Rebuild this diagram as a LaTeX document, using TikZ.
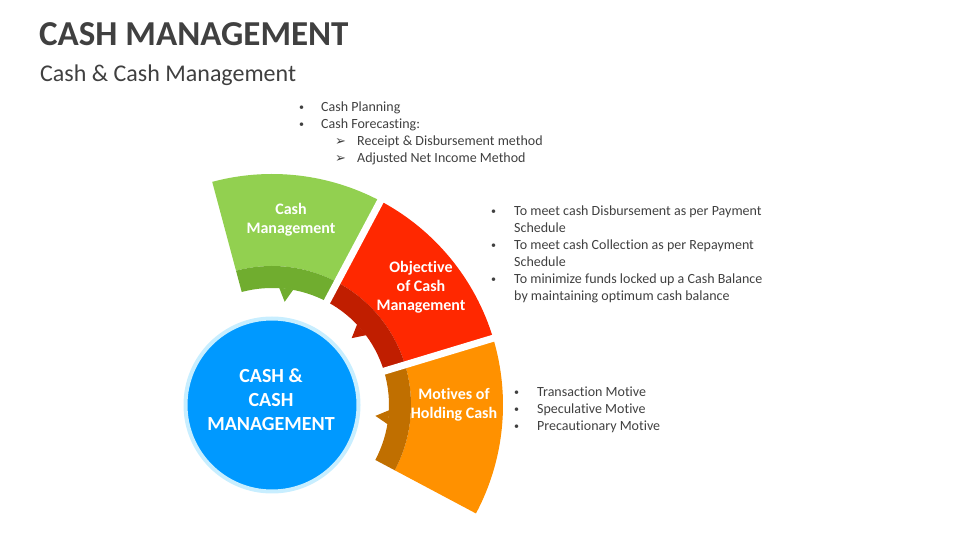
\documentclass[tikz,border=0pt]{standalone}
\usepackage{fontspec}
\setmainfont[Ligatures=NoCommon]{Carlito}
\newfontfamily\symfont{DejaVu Sans}
\usetikzlibrary{calc, positioning}

\definecolor{lgreen}{HTML}{92D050}
\definecolor{dgreen}{HTML}{70AD2F}
\definecolor{lred}{HTML}{FF2800}
\definecolor{dred}{HTML}{C01E00}
\definecolor{lorange}{HTML}{FF9100}
\definecolor{dorange}{HTML}{C06F00}
\definecolor{hubblue}{HTML}{0099FF}
\definecolor{hubglow}{HTML}{C8EEFF}
\definecolor{txtgray}{HTML}{404040}

\begin{document}
\begin{tikzpicture}[x=1pt, y=1pt,
    item/.style={anchor=base west, inner sep=0pt, text=txtgray, font=\fontsize{14}{17}\selectfont},
    dot/.style={anchor=base west, inner sep=0pt, text=txtgray, font=\fontsize{10}{17}\selectfont, yshift=1pt},
    label/.style={text=white, align=center, font=\bfseries\fontsize{16}{19}\selectfont}]
    \useasboundingbox (0,0) rectangle (960,540);

    % title
    \node[anchor=base west, inner sep=0pt, text=txtgray, font=\bfseries\fontsize{35}{40}\selectfont] (title) at (39,494) {CASH MANAGEMENT};
    \node[anchor=base west, inner sep=0pt, text=txtgray, font=\fontsize{24}{28}\selectfont] (subtitle) at (40,458) {Cash \& Cash Management};

    % sectors round the hub
    \begin{scope}[shift={(272,135)}]
        \foreach \a/\b/\m/\lt/\dk in {62/105/83/lgreen/dgreen, 16.8/62/40/lred/dred, -28/16.8/-6/lorange/dorange} {
            \fill[\lt] (\a:139pt) -- (\a:231pt) arc[start angle=\a, end angle=\b, radius=231pt] -- (\b:139pt) arc[start angle=\b, end angle=\a, radius=139pt] -- cycle;
            \fill[\dk] (\a:117pt) -- (\a:139pt) arc[start angle=\a, end angle=\b, radius=139pt] -- (\b:117pt) arc[start angle=\b, end angle=\a, radius=117pt] -- cycle;
            \fill[\dk] ({\m-3.5}:117.5pt) -- (\m:104pt) -- ({\m+3.5}:117.5pt) -- cycle;
        }
        \foreach \g in {62, 16.8}
            \draw[white, line width=7pt] (\g:100pt) -- (\g:240pt);
    \end{scope}

    \node[circle, fill=hubblue, draw=hubglow, line width=4pt, minimum size=173pt] (hub) at (272,135) {};
    \node[text=white, align=center, font=\bfseries\fontsize{20}{24}\selectfont] (hubtext) at (271,140) {CASH \&\\CASH\\MANAGEMENT};

    \node[label] (cashmgmt) at (291,320) {Cash\\Management};
    \node[label] (objective) at (421,253) {Objective\\of Cash\\Management};
    \node[label] (motives) at (454,135) {Motives of\\Holding Cash};

    % cash management points
    \foreach \y/\t [count=\i] in {428/Cash Planning, 411/Cash Forecasting:} {
        \node[dot] (plan-b\i) at (299,\y) {•};
        \node[item] (plan-\i) at (321,\y) {\t};
    }
    \foreach \y/\t [count=\i] in {394/Receipt \& Disbursement method, 377/Adjusted Net Income Method} {
        \node[item] (fc-a\i) at (335,\y) {\symfont\fontsize{13}{17}\selectfont ➢};
        \node[item] (fc-\i) at (357,\y) {\t};
    }

    % objective points
    \foreach \y [count=\i] in {324, 290, 256}
        \node[dot] (obj-b\i) at (491,\y) {•};
    \foreach \y/\t [count=\i] in {324/To meet cash Disbursement as per Payment, 307/Schedule, 290/To meet cash Collection as per Repayment, 273/Schedule, 256/To minimize funds locked up a Cash Balance, 239/by maintaining optimum cash balance}
        \node[item] (obj-\i) at (514,\y) {\t};

    % motive points
    \foreach \y/\t [count=\i] in {143/Transaction Motive, 126/Speculative Motive, 109/Precautionary Motive} {
        \node[dot] (mot-b\i) at (514,\y) {•};
        \node[item] (mot-\i) at (537,\y) {\t};
    }
\end{tikzpicture}
\end{document}
